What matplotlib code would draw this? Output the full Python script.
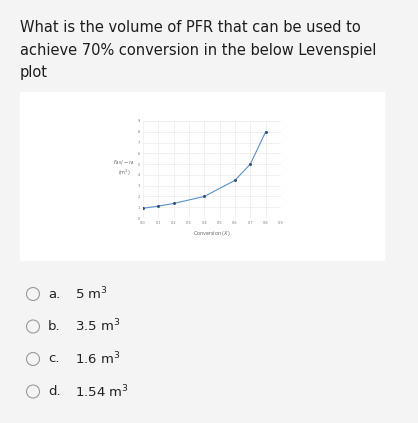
import matplotlib.pyplot as plt
from matplotlib.patches import Rectangle, Circle

W, H = 418, 423
conversion = [0.0, 0.1, 0.2, 0.4, 0.6, 0.7, 0.8]
levenspiel = [0.9, 1.1, 1.35, 2.0, 3.5, 5.0, 8.0]
x_ticks = [0.0, 0.1, 0.2, 0.3, 0.4, 0.5, 0.6, 0.7, 0.8, 0.9]
y_ticks = list(range(10))
question = ["What is the volume of PFR that can be used to",
            "achieve 70% conversion in the below Levenspiel",
            "plot"]
options = [("a.", "5 m$^3$"), ("b.", "3.5 m$^3$"), ("c.", "1.6 m$^3$"), ("d.", "1.54 m$^3$")]

fig = plt.figure(figsize=(W / 100, H / 100), dpi=100)
fig.patch.set_facecolor("#f4f4f4")
bg = fig.add_axes([0, 0, 1, 1])
bg.set_xlim(0, W)
bg.set_ylim(H, 0)
bg.axis("off")

for i, line in enumerate(question):
    bg.text(20, 28 + i * 22.5, line, fontsize=10.5, va="center", color="#1d1d1d")
bg.add_patch(Rectangle((20, 92), 364, 168, color="white"))

for i, (lab, txt) in enumerate(options):
    y = 294 + i * 32.5
    bg.add_patch(Circle((33, y), 6.5, fill=False, ec="#9a9a9a", lw=0.8))
    bg.text(48, y, lab, fontsize=9.5, va="center", color="#222222")
    bg.text(75, y, txt, fontsize=9.5, va="center", color="#222222")

ax = fig.add_axes([143 / W, 1 - 218 / H, 138 / W, 97 / H])
ax.plot(conversion, levenspiel, color="#5b8fc9", lw=0.8, marker="o", ms=1.2, mfc="#335577", mec="#335577")
ax.set_xlim(0, 0.9)
ax.set_ylim(0, 9)
ax.set_xticks(x_ticks)
ax.set_xticklabels([f"{v:.1f}" for v in x_ticks])
ax.set_yticks(y_ticks)
ax.tick_params(labelsize=2.5, length=0, colors="#777777", pad=2)
ax.grid(True, color="#e6e6e6", lw=0.4)
for s in ax.spines.values():
    s.set_visible(False)
ax.set_xlabel("Conversion ($X$)", fontsize=3.5, color="#666666", labelpad=3)
bg.text(124, 168, "$F_{A0}/-r_A$\n(m$^3$)", fontsize=3.5, color="#666666", ha="center", va="center")

fig.savefig("out.png", dpi=100)
